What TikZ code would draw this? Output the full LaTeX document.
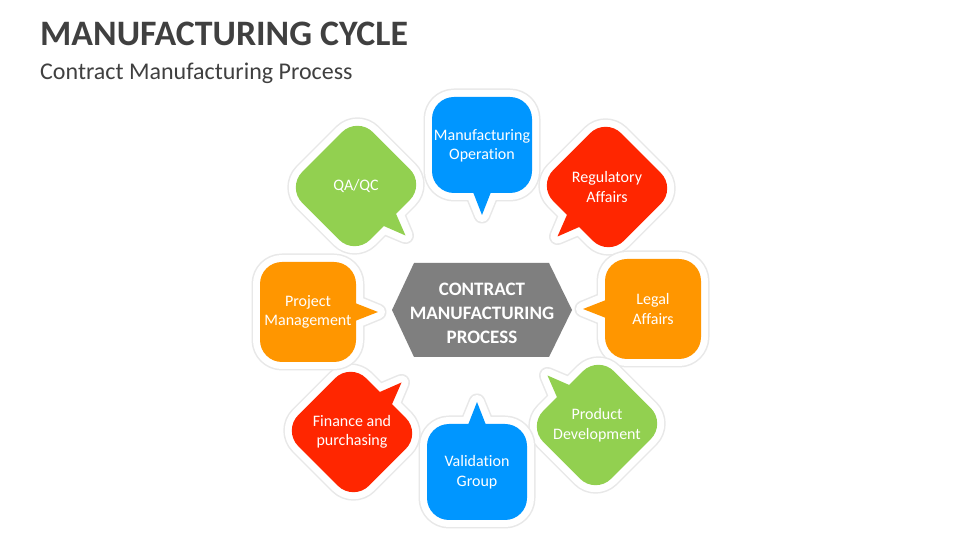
\documentclass[tikz,border=0pt]{standalone}
\usepackage{fontspec}
\setmainfont{Carlito}[Ligatures=NoCommon]
\usepackage{tikz}
\usetikzlibrary{positioning}

\definecolor{ablue}{HTML}{0096FF}
\definecolor{ared}{HTML}{FF2600}
\definecolor{aorange}{HTML}{FF9600}
\definecolor{agreen}{HTML}{92D050}
\definecolor{hexgray}{HTML}{7F7F7F}
\definecolor{titlegray}{HTML}{404040}

\tikzset{
	pics/bubble/.style={code={
		\path[draw=black!9,line width=17pt,line join=round,rounded corners=22] (-50,-48) rectangle (50,48);
		\path[draw=black!9,line width=17pt,line join=round] (-9,-48) -- (0,-70) -- (9,-48);
		\path[draw=white,fill=white,line width=14pt,line join=round,rounded corners=22] (-50,-48) rectangle (50,48);
		\path[draw=white,fill=white,line width=14pt,line join=round] (-9,-48) -- (0,-70) -- (9,-48) -- cycle;
		\path[fill=#1,rounded corners=22] (-50,-48) rectangle (50,48);
		\path[fill=#1] (-9,-47) -- (0,-70) -- (9,-47) -- cycle;
	}}
}

\begin{document}
\begin{tikzpicture}[x=1pt,y=1pt]
	\useasboundingbox (0,0) rectangle (960,540);
	\fill[white] (0,0) rectangle (960,540);

	\node[anchor=base west,inner sep=0,text=titlegray,font=\fontsize{35.8}{42}\selectfont\bfseries] (title) at (40,494) {MANUFACTURING CYCLE};
	\node[anchor=base west,inner sep=0,text=titlegray,font=\fontsize{24}{28}\selectfont] (subtitle) at ([yshift=-34pt]title.base west) {Contract Manufacturing Process};

	% callouts round the centre
	\pic at (482,395) {bubble=ablue};
	\pic[rotate=-45] at (607,353) {bubble=ared};
	\pic[rotate=-90] at (653,231) {bubble=aorange};
	\pic[rotate=-135] at (597,115) {bubble=agreen};
	\pic[rotate=180] at (477,68) {bubble=ablue};
	\pic[rotate=135] at (352,108) {bubble=ared};
	\pic[rotate=90] at (308,228) {bubble=aorange};
	\pic[rotate=45] at (356,354) {bubble=agreen};

	\fill[hexgray] (392,230) -- (414,277) -- (549,277) -- (572,230) -- (549,183) -- (414,183) -- cycle;

	\begin{scope}[every node/.style={text=white,align=center,font=\fontsize{16}{19.5}\selectfont}]
		\node (operation) at (482,394) {Manufacturing\\Operation};
		\node (regulatory) at (607,353) {Regulatory\\Affairs};
		\node (legal) at (653,231) {Legal\\Affairs};
		\node (product) at (597,115) {Product\\Development};
		\node (validation) at (477,68) {Validation\\Group};
		\node (finance) at (352,108) {Finance and\\purchasing};
		\node (project) at (308,228) {Project\\Management};
		\node (qaqc) at (356,354) {QA/QC};
		\node[font=\fontsize{19}{24}\selectfont\bfseries] (process) at (482,227) {CONTRACT\\MANUFACTURING\\PROCESS};
	\end{scope}
\end{tikzpicture}
\end{document}
